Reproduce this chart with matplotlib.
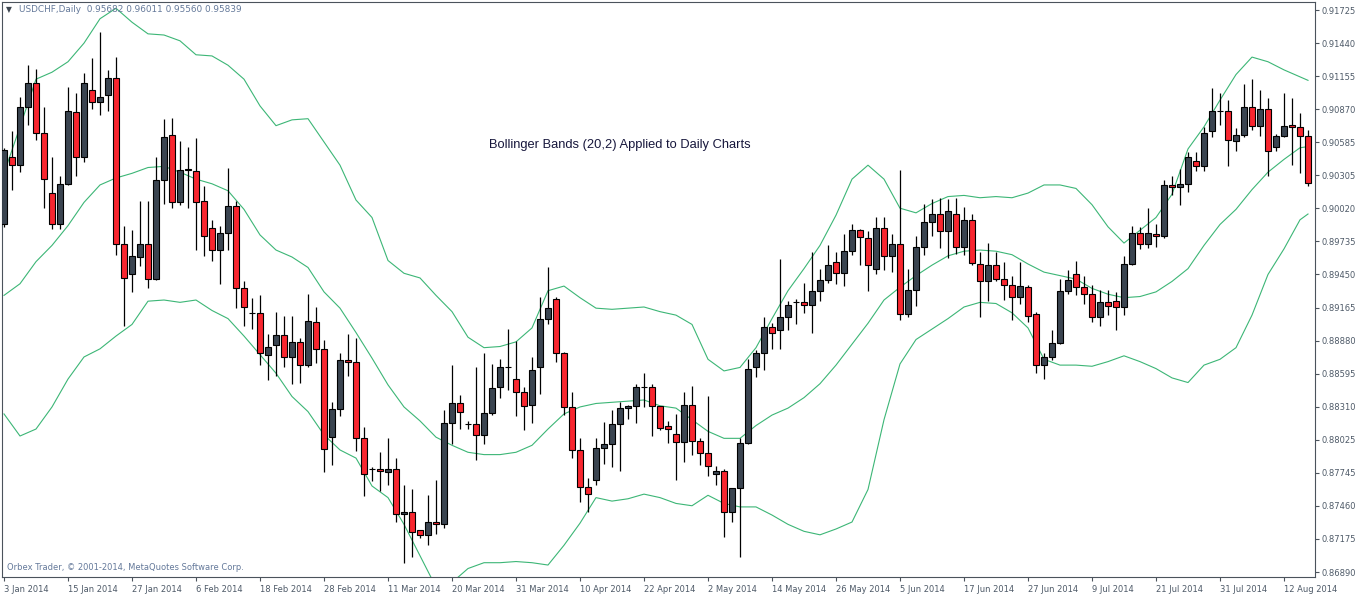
import numpy as np
import matplotlib
matplotlib.use('Agg')
import matplotlib.pyplot as plt

# USDCHF daily candles (open, high, low, close)
opens = [0.8988, 0.9046, 0.9039, 0.9089, 0.9110, 0.9067, 0.9015, 0.8988, 0.9023, 0.9085,
         0.9046, 0.9104, 0.9093, 0.9099, 0.9114, 0.8971, 0.8945, 0.8960, 0.8971, 0.8941,
         0.9026, 0.9065, 0.9007, 0.9035, 0.9034, 0.9008, 0.8985, 0.8966, 0.8981, 0.9004,
         0.8933, 0.8912, 0.8912, 0.8876, 0.8884, 0.8893, 0.8874, 0.8887, 0.8867, 0.8904,
         0.8881, 0.8805, 0.8829, 0.8871, 0.8870, 0.8804, 0.8778, 0.8778, 0.8775, 0.8778,
         0.8739, 0.8741, 0.8725, 0.8721, 0.8732, 0.8730, 0.8817, 0.8834, 0.8816, 0.8816,
         0.8807, 0.8826, 0.8848, 0.8865, 0.8855, 0.8844, 0.8833, 0.8865, 0.8907, 0.8924,
         0.8877, 0.8831, 0.8794, 0.8762, 0.8768, 0.8796, 0.8799, 0.8816, 0.8830, 0.8832,
         0.8848, 0.8848, 0.8832, 0.8815, 0.8808, 0.8801, 0.8833, 0.8802, 0.8791, 0.8773,
         0.8776, 0.8741, 0.8761, 0.8800, 0.8865, 0.8877, 0.8900, 0.8897, 0.8908, 0.8921,
         0.8921, 0.8919, 0.8931, 0.8940, 0.8956, 0.8946, 0.8965, 0.8983, 0.8976, 0.8950,
         0.8985, 0.8961, 0.8971, 0.8911, 0.8932, 0.8969, 0.8990, 0.8997, 0.8982, 0.8997,
         0.8969, 0.8992, 0.8954, 0.8939, 0.8953, 0.8941, 0.8936, 0.8926, 0.8934, 0.8911,
         0.8867, 0.8874, 0.8886, 0.8931, 0.8945, 0.8934, 0.8928, 0.8908, 0.8921, 0.8922,
         0.8917, 0.8954, 0.8981, 0.8971, 0.8980, 0.8978, 0.9022, 0.9020, 0.9023, 0.9043,
         0.9038, 0.9068, 0.9086, 0.9086, 0.9060, 0.9065, 0.9089, 0.9073, 0.9087, 0.9055,
         0.9064, 0.9074, 0.9072, 0.9064]
highs = [0.9054, 0.9068, 0.9098, 0.9125, 0.9122, 0.9089, 0.9046, 0.9030, 0.9106, 0.9101,
         0.9118, 0.9131, 0.9154, 0.9121, 0.9132, 0.8987, 0.8983, 0.9008, 0.9008, 0.9046,
         0.9079, 0.9080, 0.9060, 0.9055, 0.9062, 0.9021, 0.8992, 0.8987, 0.9037, 0.9008,
         0.8939, 0.8925, 0.8927, 0.8894, 0.8913, 0.8909, 0.8909, 0.8890, 0.8928, 0.8917,
         0.8889, 0.8835, 0.8877, 0.8894, 0.8890, 0.8814, 0.8779, 0.8792, 0.8804, 0.8787,
         0.8764, 0.8760, 0.8725, 0.8755, 0.8768, 0.8828, 0.8867, 0.8841, 0.8819, 0.8865,
         0.8877, 0.8868, 0.8872, 0.8898, 0.8888, 0.8848, 0.8874, 0.8926, 0.8951, 0.8926,
         0.8878, 0.8844, 0.8804, 0.8770, 0.8804, 0.8818, 0.8828, 0.8835, 0.8833, 0.8851,
         0.8860, 0.8851, 0.8832, 0.8819, 0.8825, 0.8844, 0.8849, 0.8804, 0.8840, 0.8780,
         0.8778, 0.8761, 0.8804, 0.8872, 0.8880, 0.8908, 0.8903, 0.8958, 0.8922, 0.8924,
         0.8938, 0.8964, 0.8950, 0.8970, 0.8964, 0.8980, 0.8988, 0.8984, 0.8982, 0.8994,
         0.8994, 0.8980, 0.9035, 0.8950, 0.8978, 0.9006, 0.9010, 0.9011, 0.9010, 0.9011,
         0.9003, 0.8997, 0.8964, 0.8972, 0.8964, 0.8956, 0.8944, 0.8956, 0.8936, 0.8913,
         0.8877, 0.8897, 0.8941, 0.8949, 0.8957, 0.8944, 0.8936, 0.8932, 0.8932, 0.8930,
         0.8961, 0.8987, 0.8986, 0.9002, 0.8988, 0.9026, 0.9030, 0.9036, 0.9050, 0.9050,
         0.9072, 0.9105, 0.9101, 0.9095, 0.9071, 0.9109, 0.9113, 0.9104, 0.9097, 0.9066,
         0.9101, 0.9097, 0.9084, 0.9069]
lows = [0.8986, 0.9018, 0.9033, 0.9074, 0.9061, 0.9002, 0.8984, 0.8984, 0.9022, 0.9030,
        0.9042, 0.9087, 0.9082, 0.9086, 0.8962, 0.8901, 0.8930, 0.8952, 0.8933, 0.8940,
        0.9006, 0.9002, 0.9005, 0.9002, 0.8966, 0.8961, 0.8957, 0.8937, 0.8966, 0.8916,
        0.8901, 0.8898, 0.8867, 0.8854, 0.8858, 0.8865, 0.8851, 0.8852, 0.8865, 0.8869,
        0.8775, 0.8781, 0.8823, 0.8858, 0.8793, 0.8754, 0.8767, 0.8759, 0.8764, 0.8732,
        0.8697, 0.8702, 0.8718, 0.8712, 0.8722, 0.8727, 0.8799, 0.8812, 0.8812, 0.8785,
        0.8799, 0.8824, 0.8839, 0.8846, 0.8823, 0.8811, 0.8817, 0.8842, 0.8902, 0.8870,
        0.8824, 0.8787, 0.8749, 0.8741, 0.8764, 0.8782, 0.8779, 0.8776, 0.8821, 0.8817,
        0.8831, 0.8806, 0.8811, 0.8800, 0.8768, 0.8784, 0.8790, 0.8781, 0.8772, 0.8764,
        0.8719, 0.8732, 0.8702, 0.8799, 0.8857, 0.8863, 0.8881, 0.8881, 0.8897, 0.8902,
        0.8912, 0.8895, 0.8922, 0.8938, 0.8937, 0.8935, 0.8962, 0.8953, 0.8931, 0.8945,
        0.8949, 0.8947, 0.8906, 0.8908, 0.8918, 0.8962, 0.8978, 0.8968, 0.8959, 0.8963,
        0.8962, 0.8953, 0.8908, 0.8922, 0.8939, 0.8923, 0.8906, 0.8920, 0.8904, 0.8860,
        0.8855, 0.8871, 0.8885, 0.8928, 0.8927, 0.8920, 0.8904, 0.8901, 0.8910, 0.8897,
        0.8910, 0.8953, 0.8967, 0.8968, 0.8969, 0.8976, 0.9013, 0.9005, 0.9016, 0.9034,
        0.9034, 0.9063, 0.9074, 0.9038, 0.9051, 0.9063, 0.9069, 0.9064, 0.9030, 0.9051,
        0.9063, 0.9039, 0.9032, 0.9021]
closes = [0.9052, 0.9039, 0.9089, 0.9110, 0.9067, 0.9027, 0.8988, 0.9023, 0.9086, 0.9046,
          0.9110, 0.9093, 0.9098, 0.9114, 0.8971, 0.8942, 0.8961, 0.8971, 0.8941, 0.9026,
          0.9063, 0.9007, 0.9035, 0.9036, 0.9007, 0.8978, 0.8966, 0.8981, 0.9004, 0.8933,
          0.8917, 0.8912, 0.8877, 0.8883, 0.8893, 0.8874, 0.8887, 0.8867, 0.8905, 0.8881,
          0.8795, 0.8829, 0.8871, 0.8870, 0.8804, 0.8773, 0.8778, 0.8776, 0.8778, 0.8739,
          0.8741, 0.8723, 0.8721, 0.8732, 0.8730, 0.8817, 0.8834, 0.8827, 0.8816, 0.8807,
          0.8826, 0.8847, 0.8865, 0.8865, 0.8844, 0.8832, 0.8863, 0.8907, 0.8916, 0.8877,
          0.8831, 0.8794, 0.8762, 0.8756, 0.8796, 0.8799, 0.8816, 0.8830, 0.8832, 0.8848,
          0.8848, 0.8832, 0.8813, 0.8812, 0.8801, 0.8833, 0.8802, 0.8791, 0.8780, 0.8776,
          0.8741, 0.8761, 0.8800, 0.8864, 0.8877, 0.8900, 0.8895, 0.8908, 0.8919, 0.8921,
          0.8919, 0.8931, 0.8940, 0.8953, 0.8946, 0.8965, 0.8983, 0.8977, 0.8953, 0.8985,
          0.8961, 0.8971, 0.8911, 0.8932, 0.8969, 0.8990, 0.8997, 0.8982, 0.9000, 0.8969,
          0.8992, 0.8955, 0.8939, 0.8953, 0.8941, 0.8936, 0.8926, 0.8935, 0.8909, 0.8867,
          0.8874, 0.8886, 0.8931, 0.8940, 0.8934, 0.8928, 0.8908, 0.8921, 0.8918, 0.8917,
          0.8954, 0.8981, 0.8971, 0.8981, 0.8978, 0.9022, 0.9020, 0.9023, 0.9046, 0.9038,
          0.9067, 0.9086, 0.9086, 0.9061, 0.9065, 0.9089, 0.9073, 0.9087, 0.9051, 0.9064,
          0.9073, 0.9072, 0.9064, 0.9024]

# Bollinger bands (20,2), read every second bar
band_bars = list(range(0, 164, 2)) + [163]
upper_band = [0.9032, 0.9072, 0.9113, 0.9119, 0.9128, 0.9144, 0.9165, 0.9174, 0.9162, 0.9152,
              0.9151, 0.9146, 0.9134, 0.9133, 0.9125, 0.9113, 0.9090, 0.9073, 0.9078, 0.9079,
              0.9059, 0.9039, 0.9009, 0.8994, 0.8957, 0.8946, 0.8942, 0.8927, 0.8913, 0.8891,
              0.8882, 0.8883, 0.8887, 0.8899, 0.8931, 0.8935, 0.8925, 0.8916, 0.8915, 0.8916,
              0.8917, 0.8913, 0.8910, 0.8902, 0.8872, 0.8862, 0.8865, 0.8882, 0.8907, 0.8931,
              0.8950, 0.8970, 0.8996, 0.9027, 0.9039, 0.9027, 0.9002, 0.8998, 0.9006, 0.9012,
              0.9013, 0.9011, 0.9012, 0.9011, 0.9015, 0.9022, 0.9022, 0.9019, 0.9005, 0.8986,
              0.8972, 0.8983, 0.8994, 0.9014, 0.9053, 0.9072, 0.9095, 0.9117, 0.9132, 0.9128,
              0.9121, 0.9115, 0.9112]
middle_band = [0.8927, 0.8937, 0.8956, 0.8970, 0.8987, 0.9007, 0.9022, 0.9028, 0.9032, 0.9037,
               0.9038, 0.9033, 0.9027, 0.9023, 0.9017, 0.9001, 0.8979, 0.8966, 0.8960, 0.8951,
               0.8930, 0.8916, 0.8895, 0.8873, 0.8850, 0.8831, 0.8819, 0.8805, 0.8798, 0.8792,
               0.8790, 0.8790, 0.8792, 0.8798, 0.8812, 0.8825, 0.8831, 0.8834, 0.8835, 0.8836,
               0.8837, 0.8832, 0.8830, 0.8820, 0.8810, 0.8804, 0.8804, 0.8815, 0.8824, 0.8830,
               0.8839, 0.8851, 0.8867, 0.8885, 0.8903, 0.8923, 0.8934, 0.8944, 0.8953, 0.8961,
               0.8965, 0.8966, 0.8965, 0.8962, 0.8954, 0.8947, 0.8944, 0.8941, 0.8933, 0.8928,
               0.8925, 0.8926, 0.8930, 0.8939, 0.8950, 0.8970, 0.8988, 0.9001, 0.9018, 0.9033,
               0.9044, 0.9054, 0.9055]
lower_band = [0.8825, 0.8806, 0.8812, 0.8831, 0.8855, 0.8874, 0.8881, 0.8892, 0.8902, 0.8922,
              0.8923, 0.8921, 0.8923, 0.8914, 0.8907, 0.8892, 0.8876, 0.8860, 0.8840, 0.8827,
              0.8807, 0.8794, 0.8787, 0.8763, 0.8753, 0.8730, 0.8703, 0.8676, 0.8680, 0.8692,
              0.8697, 0.8697, 0.8698, 0.8697, 0.8695, 0.8712, 0.8731, 0.8753, 0.8750, 0.8752,
              0.8756, 0.8753, 0.8748, 0.8746, 0.8755, 0.8748, 0.8745, 0.8745, 0.8738, 0.8730,
              0.8724, 0.8721, 0.8726, 0.8732, 0.8760, 0.8820, 0.8868, 0.8889, 0.8898, 0.8907,
              0.8917, 0.8921, 0.8920, 0.8912, 0.8899, 0.8872, 0.8867, 0.8867, 0.8866, 0.8870,
              0.8875, 0.8870, 0.8864, 0.8856, 0.8852, 0.8867, 0.8872, 0.8882, 0.8910, 0.8945,
              0.8967, 0.8992, 0.8997]

# Axis labels
date_labels = ['3 Jan 2014', '15 Jan 2014', '27 Jan 2014', '6 Feb 2014', '18 Feb 2014',
               '28 Feb 2014', '11 Mar 2014', '20 Mar 2014', '31 Mar 2014', '10 Apr 2014',
               '22 Apr 2014', '2 May 2014', '14 May 2014', '26 May 2014', '5 Jun 2014',
               '17 Jun 2014', '27 Jun 2014', '9 Jul 2014', '21 Jul 2014', '31 Jul 2014',
               '12 Aug 2014']
price_labels = ['0.86890', '0.87175', '0.87460', '0.87745', '0.88025', '0.88310', '0.88595',
                '0.88880', '0.89165', '0.89450', '0.89735', '0.90020', '0.90305', '0.90585',
                '0.90870', '0.91155', '0.91440', '0.91725']

frame_col = '#4b535c'
label_col = '#4e5a68'
info_col = '#64799a'

W, H = 1358, 594
fig = plt.figure(figsize=(W / 100, H / 100), dpi=100)
ax = fig.add_axes([2 / W, 17 / H, 1313 / W, 575 / H])

o = np.array(opens)
h = np.array(highs)
l = np.array(lows)
c = np.array(closes)
x = np.arange(len(o))
up = c >= o

# Bollinger bands
for band in (upper_band, middle_band, lower_band):
    ax.plot(band_bars, band, color='#3cb676', linewidth=0.8, zorder=1)

# Wicks
ax.vlines(x, l, h, color='black', linewidth=0.9, zorder=2)

# Bodies: dark for up days, red for down days
ax.bar(x[up], (c - o)[up], bottom=o[up], width=0.64, color='#3a4450',
       edgecolor='black', linewidth=0.8, zorder=3)
ax.bar(x[~up], (o - c)[~up], bottom=c[~up], width=0.64, color='#f8262f',
       edgecolor='black', linewidth=0.8, zorder=3)

ax.set_xlim(-0.25, 163.875)
ax.set_ylim(0.86847, 0.91794)

# Price scale on the right
ax.yaxis.tick_right()
ax.set_yticks(np.linspace(0.86890, 0.91725, len(price_labels)))
ax.set_yticklabels(price_labels)

# Date scale, one label per 8 bars
ax.set_xticks(np.arange(len(date_labels)) * 8)
ax.set_xticklabels(date_labels, ha='left')

ax.tick_params(axis='both', direction='out', length=3, width=0.8, color=frame_col,
               labelcolor=label_col, labelsize=6, pad=2)
ax.tick_params(axis='x', pad=3)
for s in ax.spines.values():
    s.set_color(frame_col)
    s.set_linewidth(0.8)

# Header and footer texts
fig.text(6 / W, 1 - 10 / H, '\u25bc', fontsize=5.5, color='#3d4650', va='center')
fig.text(19 / W, 1 - 10 / H, 'USDCHF,Daily  0.95682 0.96011 0.95560 0.95839',
         fontsize=6.4, color=info_col, va='center')
fig.text(7 / W, 1 - 567 / H, 'Orbex Trader, \u00a9 2001-2014, MetaQuotes Software Corp.',
         fontsize=6, color=info_col, va='center')
fig.text(619.5 / W, 1 - 145 / H, 'Bollinger Bands (20,2) Applied to Daily Charts',
         fontsize=9.3, family='Liberation Sans', color='#17173c', ha='center', va='center')

fig.savefig('out.png', dpi=100, facecolor='white')
